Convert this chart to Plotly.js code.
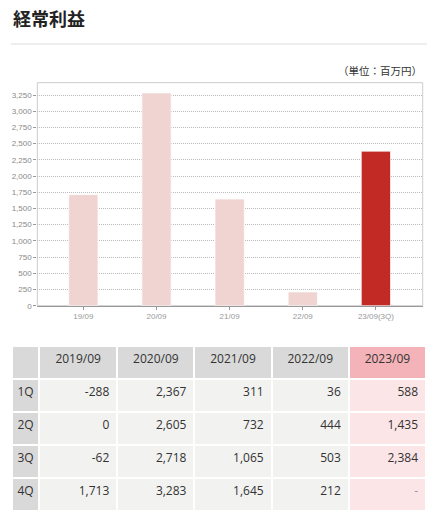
<!DOCTYPE html>
<html>
<head>
    <meta charset="utf-8">
    <title>経常利益</title>
    <script src="https://cdn.plot.ly/plotly-3.0.1.min.js"></script>
    <style>
        * { margin: 0; padding: 0; box-sizing: border-box; }
        body { background: #fff; width: 433px; height: 520px; overflow: hidden; }
        #chart { width: 433px; height: 520px; }
    </style>
</head>
<body>
    <div id="chart"></div>
    <script>
        // bar chart (annual cumulative, last year to 3Q)
        const barLabels = ['19/09', '20/09', '21/09', '22/09', '23/09(3Q)'];
        const barValues = [1713, 3283, 1645, 212, 2384];

        // quarterly table
        const years = ['2019/09', '2020/09', '2021/09', '2022/09', '2023/09'];
        const quarters = ['1Q', '2Q', '3Q', '4Q'];
        const fy2019 = [-288, 0, -62, 1713];
        const fy2020 = [2367, 2605, 2718, 3283];
        const fy2021 = [311, 732, 1065, 1645];
        const fy2022 = [36, 444, 503, 212];
        const fy2023 = [588, 1435, 2384, null];

        const W = 433, H = 520;
        const px = v => v / W;
        const py = v => 1 - v / H;

        const fmt = v => v === null ? '-' : v.toLocaleString('en-US');
        const columns = [fy2019, fy2020, fy2021, fy2022, fy2023];

        const pale = '#efd4d1';
        const red = '#c22a26';

        const bars = {
            type: 'bar',
            x: barLabels,
            y: barValues,
            width: 0.4,
            marker: {
                color: barLabels.map((_, i) => i === barLabels.length - 1 ? red : pale),
                line: { color: 'rgba(255,255,255,0.7)', width: 1 }
            },
            hoverinfo: 'x+y',
            xaxis: 'x',
            yaxis: 'y'
        };

        const cellFill = ['#d9d9d9', '#f2f2f1', '#f2f2f1', '#f2f2f1', '#f2f2f1', '#fbe5e7'];
        const table = {
            type: 'table',
            domain: { x: [px(12), px(426)], y: [py(511), py(346)] },
            columnwidth: [27, 78, 77, 77, 77, 77],
            header: {
                values: [''].concat(years),
                align: 'center',
                height: 33,
                fill: { color: ['#d9d9d9', '#d9d9d9', '#d9d9d9', '#d9d9d9', '#d9d9d9', '#f4b3b8'] },
                line: { color: '#fff', width: 2 },
                font: { family: '"Open Sans", "Noto Sans CJK JP", sans-serif', size: 12, color: '#333' }
            },
            cells: {
                values: [quarters].concat(columns.map(c => c.map(fmt))),
                align: ['center', 'right', 'right', 'right', 'right', 'right'],
                height: 33,
                fill: { color: cellFill },
                line: { color: '#fff', width: 2 },
                font: {
                    family: '"Open Sans", "Noto Sans CJK JP", sans-serif',
                    size: 12,
                    color: ['#333', '#333', '#333', '#333', '#333', ['#333', '#333', '#333', '#999']]
                }
            }
        };

        const layout = {
            width: W,
            height: H,
            margin: { l: 0, r: 0, t: 0, b: 0 },
            paper_bgcolor: '#fff',
            plot_bgcolor: '#fff',
            showlegend: false,
            font: { family: '"Liberation Sans", Arial, sans-serif' },
            xaxis: {
                domain: [px(37.3), px(422.7)],
                range: [-0.63, 4.64],
                type: 'category',
                showline: true,
                linecolor: '#999',
                linewidth: 1,
                ticks: 'outside',
                ticklen: 3,
                tickcolor: '#999',
                showgrid: false,
                tickfont: { size: 8, color: '#999' },
                fixedrange: true
            },
            yaxis: {
                domain: [py(305.7), py(82.7)],
                range: [0, 3440],
                tickvals: [0, 250, 500, 750, 1000, 1250, 1500, 1750, 2000, 2250, 2500, 2750, 3000, 3250],
                tickformat: ',d',
                showline: false,
                ticks: 'outside',
                ticklen: 3,
                tickcolor: '#999',
                gridcolor: '#bbb',
                griddash: '1px,1px',
                gridwidth: 1,
                zeroline: false,
                tickfont: { size: 8, color: '#888' },
                fixedrange: true
            },
            shapes: [
                {
                    type: 'rect', xref: 'x domain', yref: 'y domain',
                    x0: 0, x1: 1, y0: 0, y1: 1,
                    line: { color: '#ccc', width: 1 }, layer: 'below'
                },
                {
                    type: 'line', xref: 'paper', yref: 'paper',
                    x0: px(11), x1: px(427), y0: py(44), y1: py(44),
                    line: { color: '#ddd', width: 1 }
                }
            ],
            annotations: [
                {
                    text: '<b>経常利益</b>', xref: 'paper', yref: 'paper',
                    x: px(11), y: py(18), xanchor: 'left', yanchor: 'middle',
                    showarrow: false,
                    font: { family: '"Noto Sans CJK JP", sans-serif', size: 18, color: '#222' }
                },
                {
                    text: '（単位：百万円）', xref: 'paper', yref: 'paper',
                    x: px(424), y: py(71), xanchor: 'right', yanchor: 'middle',
                    showarrow: false,
                    font: { family: '"Noto Sans CJK JP", sans-serif', size: 10.5, color: '#333' }
                }
            ]
        };

        Plotly.newPlot('chart', [bars, table], layout, { displayModeBar: false });
    </script>
</body>
</html>
